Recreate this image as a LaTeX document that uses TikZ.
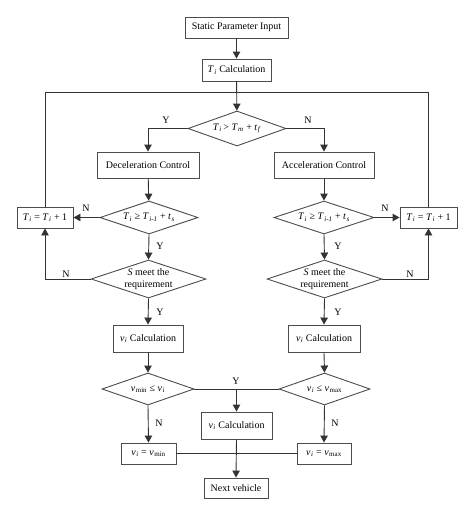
\documentclass[tikz,border=0pt]{standalone}
\usepackage{fontspec}
\setmainfont{Liberation Serif}
\usetikzlibrary{shapes.geometric,arrows.meta}
\newcommand\vsub[2]{\textit{#1}\kern0.5pt\textsubscript{\textit{#2}}}
\newcommand\vsubr[2]{\textit{#1}\kern0.5pt\textsubscript{#2}}
\begin{document}
\begin{tikzpicture}[x=1pt,y=-1pt,
  font=\fontsize{10}{12}\selectfont,
  ln/.style={draw=black!80,line width=0.9pt},
  arr/.style={ln,-{Triangle[length=7pt,width=7.5pt]}},
  box/.style={draw=black!70,line width=0.9pt,rectangle,inner sep=0pt},
  dia/.style={draw=black!70,line width=0.9pt,diamond,inner sep=0pt},
  lab/.style={inner sep=0pt}]
\useasboundingbox (0,0) rectangle (474,515);
\node[box,minimum width=103pt,minimum height=21pt] (start) at (236.5,27.5) {Static Parameter Input};
\node[box,minimum width=69pt,minimum height=22pt] (tcalc) at (236.5,70) {\vsub{T}{i} Calculation};
\node[dia,minimum width=98pt,minimum height=35pt,label={[lab]center:{\vsub{T}{i} \kern-1pt> \vsub{T}{m} + \vsub{t}{f}}}] (d1) at (237,128.5) {};
\node[box,minimum width=102pt,minimum height=26pt] (decel) at (148,165) {Deceleration Control};
\node[box,minimum width=100pt,minimum height=26pt] (accel) at (324,165) {Acceleration Control};
\node[dia,minimum width=98pt,minimum height=33pt,label={[lab]center:{\vsub{T}{i} ≥ \vsub{T}{i-1} + \vsub{t}{s}}}] (d2L) at (149,217.5) {};
\node[dia,minimum width=100pt,minimum height=33pt,label={[lab]center:{\vsub{T}{i} ≥ \vsub{T}{i-1} + \vsub{t}{s}}}] (d2R) at (324,217.5) {};
\node[box,minimum width=56pt,minimum height=21pt] (tL) at (45,217.5) {\vsub{T}{i} = \vsub{T}{i} + 1};
\node[box,minimum width=57pt,minimum height=21pt] (tR) at (428.5,217.5) {\vsub{T}{i} = \vsub{T}{i} + 1};
\node[dia,minimum width=115pt,minimum height=38pt,label={[lab,align=center,font=\fontsize{10}{12}\selectfont]center:{\textit{S} meet the\\requirement}}] (d3L) at (148.5,279) {};
\node[dia,minimum width=115pt,minimum height=38pt,label={[lab,align=center,font=\fontsize{10}{12}\selectfont]center:{\textit{S} meet the\\requirement}}] (d3R) at (324.5,279) {};
\node[box,minimum width=70pt,minimum height=27pt] (vL) at (148,338.5) {\vsub{v}{i} Calculation};
\node[box,minimum width=72pt,minimum height=27pt] (vR) at (324,338.5) {\vsub{v}{i} Calculation};
\node[dia,minimum width=92pt,minimum height=32pt,label={[lab]center:{\vsubr{v}{min} ≤ \vsub{v}{i}}}] (d4L) at (148,389) {};
\node[dia,minimum width=91pt,minimum height=32pt,label={[lab]center:{\vsub{v}{i} ≤ \vsubr{v}{max}}}] (d4R) at (324.5,389) {};
\node[box,minimum width=71pt,minimum height=27pt] (vM) at (236.5,425.5) {\vsub{v}{i} Calculation};
\node[box,minimum width=55pt,minimum height=21pt] (minB) at (148.5,453.5) {\vsub{v}{i} = \vsubr{v}{min}};
\node[box,minimum width=54pt,minimum height=21pt] (maxB) at (324,453.5) {\vsub{v}{i} = \vsubr{v}{max}};
\node[box,minimum width=64pt,minimum height=20pt] (next) at (236,488) {Next vehicle};
\coordinate (topL) at (45,92);
\coordinate (topR) at (428.5,92);
\coordinate (mid) at (236.5,389);
% connectors
\draw[arr] (start) -- (tcalc);
\draw[arr] (tcalc) -- (d1);
\draw[ln] (tL.north) -- (topL) -- (topR) -- (tR.north);
\draw[arr] (d1.west) -| (decel.north);
\draw[arr] (d1.east) -| (accel.north);
\draw[arr] (decel) -- (d2L);
\draw[arr] (accel) -- (d2R);
\draw[arr] (d2L.west) -- (tL.east);
\draw[arr] (d2R.east) -- (tR.west);
\draw[arr] (d2L.south) -- (d3L.north);
\draw[arr] (d2R.south) -- (d3R.north);
\draw[arr] (d3L.west) -| (tL.south);
\draw[arr] (d3R.east) -| (tR.south);
\draw[arr] (d3L.south) -- (vL.north);
\draw[arr] (d3R.south) -- (vR.north);
\draw[arr] (vL.south) -- (d4L.north);
\draw[arr] (vR.south) -- (d4R.north);
\draw[ln] (d4L.east) -- (d4R.west);
\draw[arr] (mid) -- (vM.north);
\draw[arr] (d4L.south) -- (minB.north);
\draw[arr] (d4R.south) -- (maxB.north);
\draw[ln] (minB.east) -- (maxB.west);
\draw[arr] (vM.south) -- (next.north);
% labels
\node[lab] (yd1) at (166,120) {Y};
\node[lab] (nd1) at (308,120) {N};
\node[lab] (nd2L) at (86,208) {N};
\node[lab] (nd2R) at (385,208) {N};
\node[lab] (yd2L) at (160,246) {Y};
\node[lab] (yd2R) at (338,246) {Y};
\node[lab] (nd3L) at (66,274) {N};
\node[lab] (nd3R) at (410,274) {N};
\node[lab] (yd3L) at (160,312) {Y};
\node[lab] (yd3R) at (338,312) {Y};
\node[lab] (ymid) at (236,381) {Y};
\node[lab] (nd4L) at (159,423) {N};
\node[lab] (nd4R) at (335,423) {N};
\end{tikzpicture}
\end{document}
